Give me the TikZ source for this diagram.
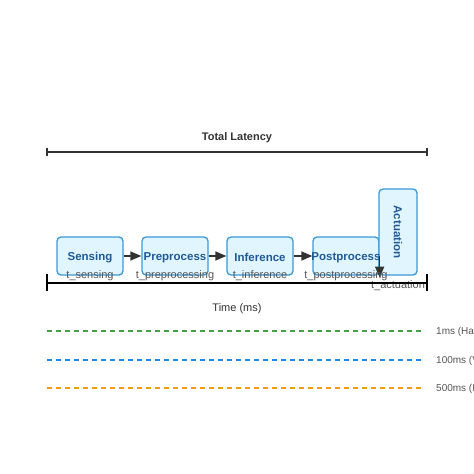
\documentclass[tikz,border=0pt]{standalone}
\usepackage{fontspec}
\setmainfont{Liberation Sans}
\usetikzlibrary{arrows.meta}
\definecolor{boxfill}{HTML}{E1F5FE}
\definecolor{boxdraw}{HTML}{3A9AD9}
\definecolor{boxtext}{HTML}{1F5A96}
\definecolor{lbl}{HTML}{555555}
\definecolor{dark}{HTML}{333333}
\definecolor{lgreen}{HTML}{43A047}
\definecolor{lblue}{HTML}{1E88E5}
\definecolor{lorange}{HTML}{F39C12}
\tikzset{
  stage/.style={draw=boxdraw, fill=boxfill, line width=1.3pt, rounded corners=4pt,
    minimum width=66pt, minimum height=38pt, inner sep=0pt, text=boxtext,
    font=\bfseries\fontsize{11.5}{13}\selectfont},
  tlabel/.style={text=lbl, font=\fontsize{11}{13}\selectfont, inner sep=0pt},
  flow/.style={draw=dark, line width=1.5pt, -{Triangle[length=11pt,width=9pt]}},
  bracket/.style={draw=dark, line width=1.5pt},
  refline/.style={line width=1.2pt, dash pattern=on 5pt off 4pt},
  reflabel/.style={anchor=west, inner sep=0pt, text=lbl, font=\fontsize{10}{12}\selectfont}
}
\begin{document}
\begin{tikzpicture}[x=1pt,y=-1pt]
\clip (0,0) rectangle (474,474);
\fill[white] (0,0) rectangle (474,474);
% total latency bracket
\node[font=\bfseries\fontsize{11}{13}\selectfont, text=dark] (tl) at (237,138) {Total Latency};
\coordinate (tla) at (47,152);
\coordinate (tlb) at (427,152);
\draw[bracket] (tla) -- (tlb);
\draw[bracket] ([yshift=-4pt]tla) -- ([yshift=4pt]tla);
\draw[bracket] ([yshift=-4pt]tlb) -- ([yshift=4pt]tlb);
% stages
\node[stage] (sen) at (90,256) {};
\node[stage] (pre) at (175,256) {};
\node[stage] (inf) at (260,256) {};
\node[stage] (post) at (346,256) {};
\node[stage, minimum width=38pt, minimum height=86pt] (act) at (398,232) {};
\foreach \n/\t in {sen/Sensing, pre/Preprocess, inf/Inference, post/Postprocess}
  \node[text=boxtext, font=\bfseries\fontsize{11.5}{13}\selectfont, inner sep=0pt] (\n txt) at ([yshift=-1.5pt]\n.center) {\t};
\node[rotate=-90, text=boxtext, font=\bfseries\fontsize{11.5}{13}\selectfont] (acttxt) at (act.center) {Actuation};
% arrows
\draw[flow] (sen.east) -- (pre.west);
\draw[flow] (pre.east) -- (inf.west);
\draw[flow] (inf.east) -- (post.west);
\draw[flow] (post.east) -- ([yshift=-2pt]post.east |- act.south);
% time labels
\node[tlabel] (ls) at (90,276) {t\_sensing};
\node[tlabel] (lp) at (175,276) {t\_preprocessing};
\node[tlabel] (li) at (260,276) {t\_inference};
\node[tlabel] (lpo) at (346,276) {t\_postprocessing};
\node[tlabel] (la) at (398,286) {t\_actuation};
% time axis
\coordinate (ta) at (47,283);
\coordinate (tb) at (427,283);
\draw[draw=black, line width=1.8pt] (ta) -- (tb);
\draw[draw=black, line width=1.8pt] ([yshift=-8pt]ta) -- ([yshift=9pt]ta);
\draw[draw=black, line width=1.8pt] ([yshift=-8pt]tb) -- ([yshift=9pt]tb);
\node[text=dark, font=\fontsize{11}{13}\selectfont] (tm) at (237,309) {Time (ms)};
% reference lines
\coordinate (ga) at (47,331); \coordinate (gb) at (425,331);
\coordinate (ba) at (47,360); \coordinate (bb) at (425,360);
\coordinate (oa) at (47,388); \coordinate (ob) at (425,388);
\draw[refline, lgreen] (ga) -- (gb);
\draw[refline, lblue] (ba) -- (bb);
\draw[refline, lorange] (oa) -- (ob);
\node[reflabel] (g) at (436,332) {1ms (Haptic)};
\node[reflabel] (b) at (436,361) {100ms (Visual)};
\node[reflabel] (o) at (436,389) {500ms (Interactive)};
\end{tikzpicture}
\end{document}
